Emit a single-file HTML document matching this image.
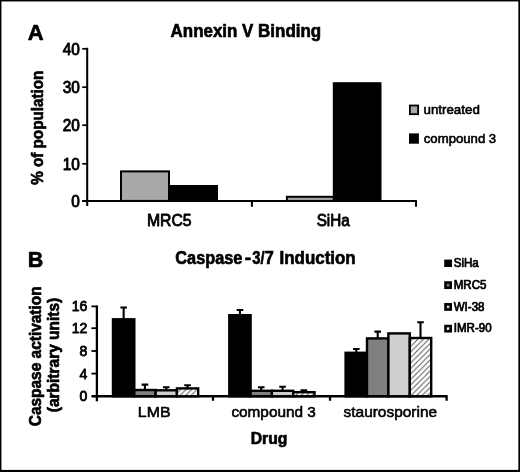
<!DOCTYPE html>
<html><head><meta charset="utf-8"><title>Figure</title>
<style>html,body{margin:0;padding:0;background:#fff}svg{display:block}text{font-family:"Liberation Sans",Arial,sans-serif;fill:#000;stroke:#000;stroke-width:0.85px;stroke-linejoin:round}.b{font-weight:bold;stroke-width:0.65px}</style></head><body>
<svg width="520" height="472" viewBox="0 0 520 472">
<defs><pattern id="h" width="5.5" height="5.5" patternUnits="userSpaceOnUse" patternTransform="translate(3.6 0)"><rect width="5.5" height="5.5" fill="#fff"/><path d="M-1 6.5L6.5 -1M-1 1L1 -1M4.5 6.5L6.5 4.5" stroke="#5a5a5a" stroke-width="1"/></pattern></defs>
<rect width="520" height="472" fill="#fff"/>
<rect x="0" y="0" width="520" height="1.45" fill="#000"/>
<rect x="0" y="0" width="1.45" height="472" fill="#000"/>
<rect x="518.35" y="0" width="1.65" height="472" fill="#000"/>
<rect x="0" y="469.9" width="520" height="2.1" fill="#000"/>
<text transform="translate(35.6 40.4)" font-size="22" class="b" text-anchor="middle">A</text>
<text transform="translate(170.6 37) scale(0.968 1)" font-size="17.5" class="b" text-anchor="start">Annexin V Binding</text>
<path d="M87.2 47.8 V206.1 M82.2 200.9 H416.9 M416 200.9 V206.7 M251.9 200.9 V206.7" stroke="#000" stroke-width="2.05" fill="none"/>
<path d="M82.2 200.9 H87.2" stroke="#000" stroke-width="1.7"/>
<text transform="translate(79.8 206.75) scale(0.975 1)" font-size="15.8" text-anchor="end">0</text>
<path d="M82.2 163.8 H87.2" stroke="#000" stroke-width="1.7"/>
<text transform="translate(79.8 169.65) scale(0.975 1)" font-size="15.8" text-anchor="end">10</text>
<path d="M82.2 125.2 H87.2" stroke="#000" stroke-width="1.7"/>
<text transform="translate(79.8 131.05) scale(0.975 1)" font-size="15.8" text-anchor="end">20</text>
<path d="M82.2 87.2 H87.2" stroke="#000" stroke-width="1.7"/>
<text transform="translate(79.8 93.05) scale(0.975 1)" font-size="15.8" text-anchor="end">30</text>
<path d="M82.2 48.8 H87.2" stroke="#000" stroke-width="1.7"/>
<text transform="translate(79.8 54.65) scale(0.975 1)" font-size="15.8" text-anchor="end">40</text>
<rect x="121" y="171.4" width="48" height="29.5" fill="#a9a9a9" stroke="#000" stroke-width="2"/>
<rect x="169" y="186" width="48" height="14.9" fill="#000" stroke="#000" stroke-width="2"/>
<rect x="286.9" y="196.8" width="46.9" height="4.1" fill="#a9a9a9" stroke="#000" stroke-width="2"/>
<rect x="333.8" y="83.2" width="46.7" height="117.7" fill="#000" stroke="#000" stroke-width="2"/>
<text x="146.9" y="225.7" font-size="16.5" textLength="44.66" lengthAdjust="spacingAndGlyphs">MRC5</text>
<text x="316.67" y="225.7" font-size="16.5" textLength="33.08" lengthAdjust="spacingAndGlyphs">SiHa</text>
<text transform="translate(43.2 127.7) rotate(-90) scale(0.953 1)" font-size="16" class="b" text-anchor="middle">% of population</text>
<rect x="409.9" y="105.5" width="8.2" height="8.7" fill="#a9a9a9" stroke="#000" stroke-width="1.8"/>
<rect x="409" y="133.4" width="9.9" height="10.3" fill="#000"/>
<text x="423.5" y="114.2" font-size="13" style="stroke-width:0.6px" textLength="56.3" lengthAdjust="spacingAndGlyphs">untreated</text>
<text x="423.8" y="143" font-size="13" style="stroke-width:0.6px" textLength="72.4" lengthAdjust="spacingAndGlyphs">compound 3</text>
<text transform="translate(35.4 267.1)" font-size="22.6" class="b" text-anchor="middle" textLength="15.5" lengthAdjust="spacingAndGlyphs">B</text>
<text y="263.8" font-size="17.5" class="b"><tspan x="175.33" textLength="67.0" lengthAdjust="spacingAndGlyphs">Caspase</tspan><tspan x="244.72" textLength="6.44" lengthAdjust="spacingAndGlyphs">-</tspan><tspan x="252.2" textLength="8.2" lengthAdjust="spacingAndGlyphs">3</tspan><tspan x="260.41" textLength="4.09" lengthAdjust="spacingAndGlyphs">/</tspan><tspan x="264.74" textLength="9.01" lengthAdjust="spacingAndGlyphs">7</tspan><tspan> </tspan><tspan x="279.47" textLength="76.24" lengthAdjust="spacingAndGlyphs">Induction</tspan></text>
<path d="M96.9 305.4 V401.25 M91.9 396.25 H447.7 M213 396.25 V400.75 M330 396.25 V400.75 M446.6 396.25 V400.75" stroke="#000" stroke-width="2.3" fill="none"/>
<path d="M91.4 396.2 H96.9" stroke="#000" stroke-width="1.8"/>
<text transform="translate(87.3 401.1) scale(1.02 1)" font-size="13.8" style="stroke-width:0.8px" text-anchor="end">0</text>
<path d="M91.4 373.6 H96.9" stroke="#000" stroke-width="1.8"/>
<text transform="translate(87.3 378.5) scale(1.02 1)" font-size="13.8" style="stroke-width:0.8px" text-anchor="end">4</text>
<path d="M91.4 351.0 H96.9" stroke="#000" stroke-width="1.8"/>
<text transform="translate(87.3 355.9) scale(1.02 1)" font-size="13.8" style="stroke-width:0.8px" text-anchor="end">8</text>
<path d="M91.4 328.2 H96.9" stroke="#000" stroke-width="1.8"/>
<text transform="translate(87.3 333.1) scale(1.02 1)" font-size="13.8" style="stroke-width:0.8px" text-anchor="end">12</text>
<path d="M91.4 306.4 H96.9" stroke="#000" stroke-width="1.8"/>
<text transform="translate(87.3 311.3) scale(1.02 1)" font-size="13.8" style="stroke-width:0.8px" text-anchor="end">16</text>
<path d="M123.65 319.3 V307.5 M120.35 307.5 H126.95" stroke="#000" stroke-width="2.1" fill="none"/>
<rect x="113.0" y="319.3" width="21.3" height="76.95" fill="#000" stroke="#000" stroke-width="2.4"/>
<path d="M144.95 390 V384.6 M141.65 384.6 H148.25" stroke="#000" stroke-width="2.1" fill="none"/>
<rect x="134.3" y="390" width="21.3" height="6.25" fill="#808080" stroke="#000" stroke-width="2.4"/>
<path d="M166.25 390.3 V387.3 M162.95 387.3 H169.55" stroke="#000" stroke-width="2.1" fill="none"/>
<rect x="155.6" y="390.3" width="21.3" height="5.95" fill="#cecece" stroke="#000" stroke-width="2.4"/>
<path d="M187.55 388.4 V385.2 M184.25 385.2 H190.85" stroke="#000" stroke-width="2.1" fill="none"/>
<rect x="176.9" y="388.4" width="21.3" height="7.85" fill="url(#h)" stroke="#000" stroke-width="2.4"/>
<path d="M239.95 315.2 V310.0 M236.65 310.0 H243.25" stroke="#000" stroke-width="2.1" fill="none"/>
<rect x="229.3" y="315.2" width="21.3" height="81.05" fill="#000" stroke="#000" stroke-width="2.4"/>
<path d="M261.25 390.8 V387.3 M257.95 387.3 H264.55" stroke="#000" stroke-width="2.1" fill="none"/>
<rect x="250.6" y="390.8" width="21.3" height="5.45" fill="#808080" stroke="#000" stroke-width="2.4"/>
<path d="M282.55 390.8 V386.7 M279.25 386.7 H285.85" stroke="#000" stroke-width="2.1" fill="none"/>
<rect x="271.9" y="390.8" width="21.3" height="5.45" fill="#cecece" stroke="#000" stroke-width="2.4"/>
<path d="M303.85 392.2 V390.4 M300.55 390.4 H307.15" stroke="#000" stroke-width="2.1" fill="none"/>
<rect x="293.2" y="392.2" width="21.3" height="4.05" fill="url(#h)" stroke="#000" stroke-width="2.4"/>
<path d="M356.3 352.8 V349 M353.0 349 H359.6" stroke="#000" stroke-width="2.1" fill="none"/>
<rect x="345.6" y="352.8" width="21.4" height="43.45" fill="#000" stroke="#000" stroke-width="2.4"/>
<path d="M377.7 338.4 V331.6 M374.4 331.6 H381.0" stroke="#000" stroke-width="2.1" fill="none"/>
<rect x="367.0" y="338.4" width="21.4" height="57.85" fill="#808080" stroke="#000" stroke-width="2.4"/>
<rect x="388.4" y="333.4" width="21.4" height="62.85" fill="#cecece" stroke="#000" stroke-width="2.4"/>
<path d="M420.5 338.0 V322.2 M417.2 322.2 H423.8" stroke="#000" stroke-width="2.1" fill="none"/>
<rect x="409.8" y="338.0" width="21.4" height="58.25" fill="url(#h)" stroke="#000" stroke-width="2.4"/>
<text x="137.8" y="417.2" font-size="15.2" style="stroke-width:0.6px" textLength="32.7" lengthAdjust="spacingAndGlyphs">LMB</text>
<text x="231.45" y="417.2" font-size="15.2" style="stroke-width:0.6px" textLength="84.3" lengthAdjust="spacingAndGlyphs">compound 3</text>
<text x="343.55" y="417.2" font-size="15.2" style="stroke-width:0.6px" textLength="93.5" lengthAdjust="spacingAndGlyphs">staurosporine</text>
<text transform="translate(269.1 443.9)" font-size="15.6" class="b" text-anchor="middle" textLength="36.7" lengthAdjust="spacingAndGlyphs">Drug</text>
<text transform="translate(41.1 356.3) rotate(-90) scale(0.99 1)" font-size="15.6" class="b" text-anchor="middle">Caspase activation</text>
<text transform="translate(59.3 355) rotate(-90) scale(0.993 1)" font-size="15.6" class="b" text-anchor="middle">(arbitrary units)</text>
<rect x="444.2" y="259.6" width="7.8" height="7.4" fill="#000"/>
<text transform="translate(453.7 267.2) scale(0.955 1)" font-size="12.1" style="stroke-width:0.75px" text-anchor="start">SiHa</text>
<rect x="445.5" y="282.55" width="5.2" height="5.2" fill="#808080" stroke="#000" stroke-width="2.6"/>
<text transform="translate(453.7 288.95) scale(0.955 1)" font-size="12.1" style="stroke-width:0.75px" text-anchor="start">MRC5</text>
<rect x="445.5" y="304.3" width="5.2" height="5.2" fill="#cecece" stroke="#000" stroke-width="2.6"/>
<text transform="translate(453.7 310.7) scale(0.955 1)" font-size="12.1" style="stroke-width:0.75px" text-anchor="start">WI-38</text>
<rect x="445.5" y="326.05" width="5.2" height="5.2" fill="url(#h)" stroke="#000" stroke-width="2.6"/>
<text transform="translate(453.7 332.45) scale(0.955 1)" font-size="12.1" style="stroke-width:0.75px" text-anchor="start">IMR-90</text>
</svg></body></html>
